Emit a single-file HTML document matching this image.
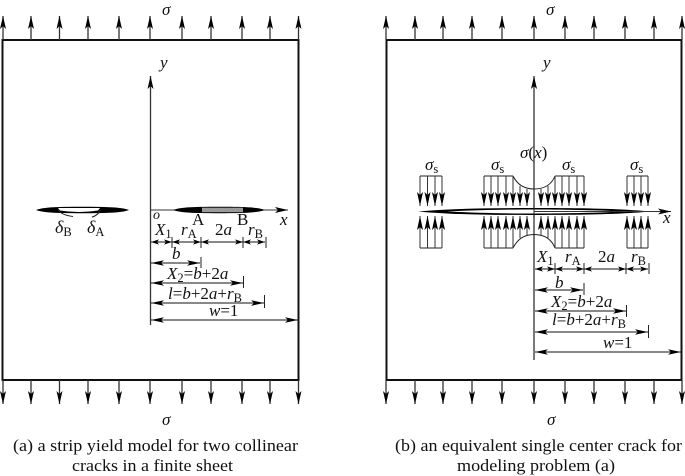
<!DOCTYPE html>
<html><head><meta charset="utf-8">
<style>
html,body{margin:0;padding:0;background:#fff}
svg{display:block}
text{font-family:"Liberation Serif",serif;font-size:17px;fill:#111}
.i{font-style:italic}
.sub{font-size:12.5px}
.cap{font-size:16.5px}
.ln{stroke:#222;stroke-width:1;fill:none}
.box{stroke:#111;stroke-width:2;fill:none}
.ar{stroke:#333;stroke-width:1.3;marker-end:url(#big)}
.st{stroke:#333;stroke-width:1;marker-end:url(#st)}
.d1{stroke:#111;stroke-width:1;marker-start:url(#sm);marker-end:url(#sm)}
.d2{stroke:#111;stroke-width:1;marker-start:url(#md);marker-end:url(#md)}
</style></head>
<body>
<svg width="685" height="476" viewBox="0 0 685 476" xmlns="http://www.w3.org/2000/svg">
<defs>
<marker id="big" markerUnits="userSpaceOnUse" markerWidth="1" markerHeight="1" refX="0" refY="0" orient="auto-start-reverse" overflow="visible"><path d="M0,0L-13,-3L-10,0L-13,3Z" fill="#000"/></marker>
<marker id="st" markerUnits="userSpaceOnUse" markerWidth="1" markerHeight="1" refX="0" refY="0" orient="auto-start-reverse" overflow="visible"><path d="M0,0L-14,-3L-11,0L-14,3Z" fill="#000"/></marker>
<marker id="sm" markerUnits="userSpaceOnUse" markerWidth="1" markerHeight="1" refX="0" refY="0" orient="auto-start-reverse" overflow="visible"><path d="M0,0L-8,-2.6L-6,0L-8,2.6Z" fill="#000"/></marker>
<marker id="md" markerUnits="userSpaceOnUse" markerWidth="1" markerHeight="1" refX="0" refY="0" orient="auto-start-reverse" overflow="visible"><path d="M0,0L-13,-2.8L-10,0L-13,2.8Z" fill="#000"/></marker>
</defs>

<!-- boxes -->
<rect class="box" x="2.5" y="40" width="296" height="340"/>
<rect class="box" x="386.5" y="40" width="295" height="340"/>

<!-- left top arrows -->
<g>
<line class="ar" x1="3" y1="40" x2="3" y2="16"/><line class="ar" x1="31" y1="40" x2="31" y2="16"/><line class="ar" x1="59.5" y1="40" x2="59.5" y2="16"/><line class="ar" x1="88" y1="40" x2="88" y2="16"/><line class="ar" x1="119" y1="40" x2="119" y2="16"/><line class="ar" x1="150" y1="40" x2="150" y2="16"/><line class="ar" x1="182" y1="40" x2="182" y2="16"/><line class="ar" x1="211" y1="40" x2="211" y2="16"/><line class="ar" x1="242" y1="40" x2="242" y2="16"/><line class="ar" x1="270" y1="40" x2="270" y2="16"/><line class="ar" x1="298.500" y1="40" x2="298.500" y2="16"/>
<line class="ar" x1="3" y1="380" x2="3" y2="404"/><line class="ar" x1="31" y1="380" x2="31" y2="404"/><line class="ar" x1="59.5" y1="380" x2="59.5" y2="404"/><line class="ar" x1="88" y1="380" x2="88" y2="404"/><line class="ar" x1="119" y1="380" x2="119" y2="404"/><line class="ar" x1="150" y1="380" x2="150" y2="404"/><line class="ar" x1="182" y1="380" x2="182" y2="404"/><line class="ar" x1="211" y1="380" x2="211" y2="404"/><line class="ar" x1="242" y1="380" x2="242" y2="404"/><line class="ar" x1="270" y1="380" x2="270" y2="404"/><line class="ar" x1="298.500" y1="380" x2="298.500" y2="404"/>
</g>
<!-- right arrows -->
<g>
<line class="ar" x1="386" y1="40" x2="386" y2="16"/><line class="ar" x1="415" y1="40" x2="415" y2="16"/><line class="ar" x1="443" y1="40" x2="443" y2="16"/><line class="ar" x1="472" y1="40" x2="472" y2="16"/><line class="ar" x1="502" y1="40" x2="502" y2="16"/><line class="ar" x1="534" y1="40" x2="534" y2="16"/><line class="ar" x1="565" y1="40" x2="565" y2="16"/><line class="ar" x1="594" y1="40" x2="594" y2="16"/><line class="ar" x1="625" y1="40" x2="625" y2="16"/><line class="ar" x1="654" y1="40" x2="654" y2="16"/><line class="ar" x1="682" y1="40" x2="682" y2="16"/>
<line class="ar" x1="386" y1="380" x2="386" y2="404"/><line class="ar" x1="415" y1="380" x2="415" y2="404"/><line class="ar" x1="443" y1="380" x2="443" y2="404"/><line class="ar" x1="472" y1="380" x2="472" y2="404"/><line class="ar" x1="502" y1="380" x2="502" y2="404"/><line class="ar" x1="534" y1="380" x2="534" y2="404"/><line class="ar" x1="565" y1="380" x2="565" y2="404"/><line class="ar" x1="594" y1="380" x2="594" y2="404"/><line class="ar" x1="625" y1="380" x2="625" y2="404"/><line class="ar" x1="654" y1="380" x2="654" y2="404"/><line class="ar" x1="682" y1="380" x2="682" y2="404"/>
</g>

<!-- sigma outer labels -->
<text class="i" x="162" y="15">σ</text>
<text class="i" x="162" y="425">σ</text>
<text class="i" x="546" y="15">σ</text>
<text class="i" x="547" y="425">σ</text>

<!-- LEFT PANEL -->
<line class="ar" x1="150.500" y1="325" x2="150.500" y2="76"/>
<line class="ar" style="stroke-width:1" x1="150" y1="210" x2="288" y2="210"/>
<text class="i" x="160" y="68">y</text>
<text class="i" x="280" y="225">x</text>
<text class="i" x="153" y="219" style="font-size:14px">o</text>
<text x="192" y="225">A</text>
<text x="237" y="225">B</text>

<!-- left crack -->
<path d="M36,210C43,207.500 53,206.800 82,206.800C111,206.800 122,207.500 129,210C122,212.500 111,213.200 82,213.200C53,213.200 43,212.500 36,210Z" fill="#000"/>
<path d="M58,208H100L98,210.500Q79,213.500 60,210.500Z" fill="#fff"/>
<path class="ln" d="M58,209.500Q61,215 73,216.500M100,209.500Q99,215 92,217"/>
<!-- right crack in left panel -->
<path d="M173,210C180,207.500 190,206.800 219,206.800C248,206.800 258,207.500 265,210C258,212.500 248,213.200 219,213.200C190,213.200 180,212.500 173,210Z" fill="#000"/>
<rect x="202" y="207.700" width="41" height="4.500" fill="#999"/>

<text class="i" x="55" y="233" style="font-size:18px">δ<tspan class="sub" dy="3" style="font-style:normal">B</tspan></text>
<text class="i" x="87" y="233" style="font-size:18px">δ<tspan class="sub" dy="3" style="font-style:normal">A</tspan></text>

<!-- left dims -->
<g>
<line class="d1" x1="151" y1="242" x2="172" y2="242"/><line class="d1" x1="172" y1="242" x2="201" y2="242"/><line class="d1" x1="201" y1="242" x2="243" y2="242"/><line class="d1" x1="243" y1="242" x2="265" y2="242"/>
<path class="ln" d="M172,237V248M201,237V248M243,237V248M266,237V248"/>
<line class="d2" x1="151" y1="263" x2="200" y2="263"/><path class="ln" d="M201,257V268"/>
<line class="d2" x1="151" y1="283" x2="243" y2="283"/><path class="ln" d="M243.500,276V288"/>
<line class="d2" x1="151" y1="303" x2="264" y2="303"/><path class="ln" d="M264.500,295V308"/>
<line class="d2" x1="151" y1="320" x2="298" y2="320"/>
</g>
<text class="i" x="155" y="235">X<tspan class="sub" dy="3" style="font-style:normal">1</tspan></text>
<text class="i" x="181" y="235">r<tspan class="sub" dy="3" style="font-style:normal">A</tspan></text>
<text x="215" y="235">2<tspan class="i">a</tspan></text>
<text class="i" x="248" y="235">r<tspan class="sub" dy="3" style="font-style:normal">B</tspan></text>
<text class="i" x="172" y="259">b</text>
<text class="i" x="167" y="279">X<tspan class="sub" dy="3" style="font-style:normal">2</tspan><tspan dy="-3" style="font-style:normal">=</tspan>b<tspan style="font-style:normal">+2</tspan>a</text>
<text class="i" x="168" y="299">l<tspan style="font-style:normal">=</tspan>b<tspan style="font-style:normal">+2</tspan>a<tspan style="font-style:normal">+</tspan>r<tspan class="sub" dy="3" style="font-style:normal">B</tspan></text>
<text class="i" x="209" y="316">w<tspan style="font-style:normal">=1</tspan></text>

<!-- RIGHT PANEL -->
<line class="ar" x1="534" y1="360" x2="534" y2="76"/>
<text class="i" x="543" y="68">y</text>
<text class="i" x="663" y="223">x</text>
<text x="520" y="158"><tspan class="i">σ</tspan>(<tspan class="i">x</tspan>)</text>
<text class="i" x="425" y="170">σ<tspan class="sub" dy="3" style="font-style:normal">s</tspan></text>
<text class="i" x="491" y="170">σ<tspan class="sub" dy="3" style="font-style:normal">s</tspan></text>
<text class="i" x="562" y="170">σ<tspan class="sub" dy="3" style="font-style:normal">s</tspan></text>
<text class="i" x="630" y="170">σ<tspan class="sub" dy="3" style="font-style:normal">s</tspan></text>

<!-- stress blocks outlines -->
<path class="ln" d="M420,176H442M420,248H442M484,176H513M484,248H513M555,176H584M555,248H584M627,176H648M627,248H648"/>
<path class="ln" d="M513,176C518,186 526,189 534,189C543,189 551,186 555,176"/>
<path class="ln" d="M513,248C518,238 526,234.500 534,234.500C543,234.500 551,238 555,248"/>

<!-- down arrows -->
<g>
<line class="st" x1="420" y1="176" x2="420" y2="206"/><line class="st" x1="427.500" y1="176" x2="427.500" y2="206"/><line class="st" x1="435" y1="176" x2="435" y2="206"/><line class="st" x1="442" y1="176" x2="442" y2="206"/>
<line class="st" x1="484" y1="176" x2="484" y2="206"/><line class="st" x1="491" y1="176" x2="491" y2="206"/><line class="st" x1="498" y1="176" x2="498" y2="206"/><line class="st" x1="506" y1="176" x2="506" y2="206"/><line class="st" x1="513" y1="176" x2="513" y2="206"/><line class="st" x1="520" y1="186" x2="520" y2="206"/><line class="st" x1="527" y1="189" x2="527" y2="206"/>
<line class="st" x1="541" y1="189" x2="541" y2="206"/><line class="st" x1="548" y1="186" x2="548" y2="206"/><line class="st" x1="555" y1="176" x2="555" y2="206"/><line class="st" x1="562" y1="176" x2="562" y2="206"/><line class="st" x1="569" y1="176" x2="569" y2="206"/><line class="st" x1="577" y1="176" x2="577" y2="206"/><line class="st" x1="584" y1="176" x2="584" y2="206"/>
<line class="st" x1="627" y1="176" x2="627" y2="206"/><line class="st" x1="634" y1="176" x2="634" y2="206"/><line class="st" x1="641" y1="176" x2="641" y2="206"/><line class="st" x1="648" y1="176" x2="648" y2="206"/>
</g>
<!-- up arrows -->
<g>
<line class="st" x1="420" y1="248" x2="420" y2="216"/><line class="st" x1="427.500" y1="248" x2="427.500" y2="216"/><line class="st" x1="435" y1="248" x2="435" y2="216"/><line class="st" x1="442" y1="248" x2="442" y2="216"/>
<line class="st" x1="484" y1="248" x2="484" y2="216"/><line class="st" x1="491" y1="248" x2="491" y2="216"/><line class="st" x1="498" y1="248" x2="498" y2="216"/><line class="st" x1="506" y1="248" x2="506" y2="216"/><line class="st" x1="513" y1="248" x2="513" y2="216"/><line class="st" x1="520" y1="238" x2="520" y2="216"/><line class="st" x1="527" y1="235" x2="527" y2="216"/>
<line class="st" x1="541" y1="235" x2="541" y2="216"/><line class="st" x1="548" y1="238" x2="548" y2="216"/><line class="st" x1="555" y1="248" x2="555" y2="216"/><line class="st" x1="562" y1="248" x2="562" y2="216"/><line class="st" x1="569" y1="248" x2="569" y2="216"/><line class="st" x1="577" y1="248" x2="577" y2="216"/><line class="st" x1="584" y1="248" x2="584" y2="216"/>
<line class="st" x1="627" y1="248" x2="627" y2="216"/><line class="st" x1="634" y1="248" x2="634" y2="216"/><line class="st" x1="641" y1="248" x2="641" y2="216"/><line class="st" x1="648" y1="248" x2="648" y2="216"/>
</g>

<!-- single crack -->
<path d="M418,211.500C450,208.500 490,208 534,208C578,208 620,208.500 650,211.500C620,214.500 578,215 534,215C490,215 450,214.500 418,211.500Z" fill="#000"/>
<path d="M447,211.500C480,210 510,209.500 534,209.500C560,209.500 595,210 622,211.500C595,213 560,213.500 534,213.500C510,213.500 480,213 447,211.500Z" fill="#fff"/>
<line class="ar" style="stroke-width:1" x1="534" y1="211.500" x2="671" y2="211.500"/>
<line x1="534" y1="205" x2="534" y2="218" stroke="#222" stroke-width="1"/>

<!-- right dims -->
<g>
<line class="d1" x1="535" y1="269" x2="555" y2="269"/><line class="d1" x1="555" y1="269" x2="584" y2="269"/><line class="d1" x1="584" y1="269" x2="626" y2="269"/><line class="d1" x1="626" y1="269" x2="648" y2="269"/>
<path class="ln" d="M555,263V274M584,263V274M626,263V274M649,263V274"/>
<line class="d2" x1="535" y1="290" x2="583" y2="290"/><path class="ln" d="M584,283V295"/>
<line class="d2" x1="535" y1="311" x2="626" y2="311"/><path class="ln" d="M626.500,305V317"/>
<line class="d2" x1="535" y1="332" x2="648" y2="332"/><path class="ln" d="M648.500,325V338"/>
<line class="d2" x1="535" y1="352" x2="681" y2="352"/>
</g>
<text class="i" x="537" y="262">X<tspan class="sub" dy="3" style="font-style:normal">1</tspan></text>
<text class="i" x="565" y="262">r<tspan class="sub" dy="3" style="font-style:normal">A</tspan></text>
<text x="598" y="262">2<tspan class="i">a</tspan></text>
<text class="i" x="631" y="262">r<tspan class="sub" dy="3" style="font-style:normal">B</tspan></text>
<text class="i" x="555" y="288">b</text>
<text class="i" x="551" y="307">X<tspan class="sub" dy="3" style="font-style:normal">2</tspan><tspan dy="-3" style="font-style:normal">=</tspan>b<tspan style="font-style:normal">+2</tspan>a</text>
<text class="i" x="552" y="325">l<tspan style="font-style:normal">=</tspan>b<tspan style="font-style:normal">+2</tspan>a<tspan style="font-style:normal">+</tspan>r<tspan class="sub" dy="3" style="font-style:normal">B</tspan></text>
<text class="i" x="603" y="348">w<tspan style="font-style:normal">=1</tspan></text>

<!-- captions -->
<text class="cap" x="13" y="451" textLength="285" lengthAdjust="spacingAndGlyphs">(a) a strip yield model for two collinear</text>
<text class="cap" x="72" y="471" textLength="161" lengthAdjust="spacingAndGlyphs">cracks in a finite sheet</text>
<text class="cap" x="395" y="451" textLength="287" lengthAdjust="spacingAndGlyphs">(b) an equivalent single center crack for</text>
<text class="cap" x="457" y="471" textLength="158" lengthAdjust="spacingAndGlyphs">modeling problem (a)</text>
</svg>
</body></html>
